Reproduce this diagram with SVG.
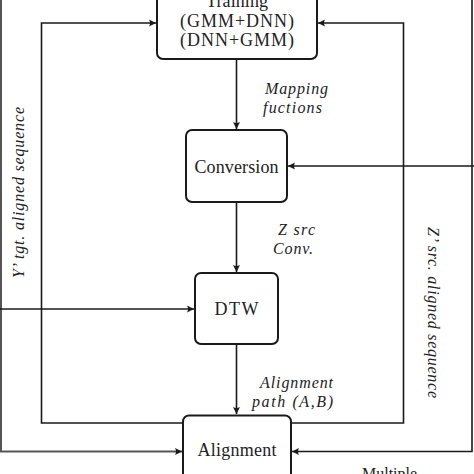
<svg xmlns="http://www.w3.org/2000/svg" width="474" height="474" viewBox="0 0 474 474">
<style>
.box{fill:#fff;stroke:#1a1a1a;stroke-width:2}
.bt{font-family:"Liberation Serif",serif;font-size:18px;fill:#222;text-anchor:middle}
.lbl{font-family:"Liberation Serif",serif;font-style:italic;font-size:16px;fill:#222}
.c{fill:none;stroke:#1a1a1a;stroke-width:1.6}
.o{fill:none;stroke:#555;stroke-width:2}
</style>
<defs>
<marker id="ah" markerWidth="10" markerHeight="8" refX="8" refY="4" orient="auto" markerUnits="userSpaceOnUse">
<path d="M8,4 L1,0.5 Q3,4 1,7.5 Z" fill="#1a1a1a"/>
</marker>
</defs>
<rect width="474" height="474" fill="#fff"/>
<g id="connectors">
<line class="c" x1="236.5" y1="59" x2="236.5" y2="129" marker-end="url(#ah)"/>
<line class="c" x1="236.5" y1="202" x2="236.5" y2="272" marker-end="url(#ah)"/>
<line class="c" x1="236.5" y1="344" x2="236.5" y2="414" marker-end="url(#ah)"/>
<polyline class="c" points="183,423 41.5,423 41.5,23 156,23" marker-end="url(#ah)"/>
<polyline class="c" points="291,423 403.5,423 403.5,23 318,23" marker-end="url(#ah)"/>
<polyline class="o" points="1,0 1,451.5 182,451.5" marker-end="url(#ah)"/>
<polyline class="c" points="472,0 472,451.5 292,451.5" marker-end="url(#ah)"/>
<line class="c" x1="474" y1="166" x2="288" y2="166" marker-end="url(#ah)"/>
<line class="c" x1="0" y1="309" x2="194" y2="309" marker-end="url(#ah)"/>
<text class="lbl" x="265" y="94" textLength="63">Mapping</text>
<text class="lbl" x="263" y="113" textLength="59">fuctions</text>
<text class="lbl" x="278" y="235" textLength="37">Z src</text>
<text class="lbl" x="273" y="254" textLength="40">Conv.</text>
<text class="lbl" x="260" y="388" textLength="73">Alignment</text>
<text class="lbl" x="252" y="407" textLength="81">path (A,B)</text>
<text class="lbl" transform="translate(23.5,278) rotate(-90)" x="0" y="0" textLength="171">Y’ tgt. aligned sequence</text>
<text class="lbl" transform="translate(428,227) rotate(90)" x="0" y="0" textLength="171">Z’ src. aligned sequence</text>
<text class="bt" x="362" y="479" style="text-anchor:start;font-size:16px">Multiple</text>
</g>
<g id="training">
<rect class="box" x="157" y="-30" width="160" height="89" rx="6"/>
<text class="bt" x="237" y="7" textLength="62">Training</text>
<text class="bt" x="237" y="27" textLength="114">(GMM+DNN)</text>
<text class="bt" x="237" y="46" textLength="114">(DNN+GMM)</text>
</g>
<g id="conversion">
<rect class="box" x="186" y="130" width="101" height="72" rx="6"/>
<text class="bt" x="236.5" y="173" textLength="84">Conversion</text>
</g>
<g id="dtw">
<rect class="box" x="195" y="273" width="83" height="71" rx="6"/>
<text class="bt" x="236.5" y="315" textLength="44">DTW</text>
</g>
<g id="alignment">
<rect class="box" x="183" y="415.5" width="108" height="80" rx="6"/>
<text class="bt" x="237" y="456" textLength="79">Alignment</text>
</g>
</svg>
